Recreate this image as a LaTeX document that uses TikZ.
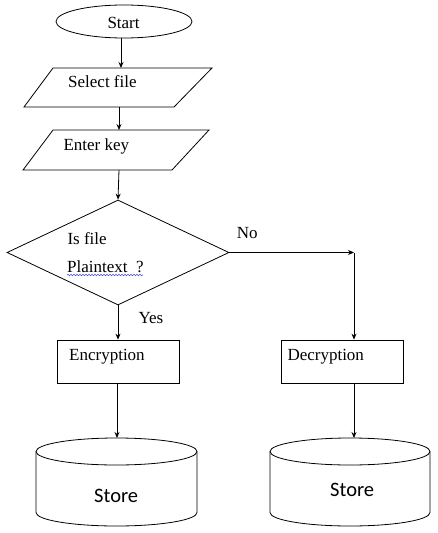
\documentclass[tikz,border=0pt]{standalone}
\usepackage{fontspec}
\setmainfont{Liberation Serif}
\newfontfamily\calibrifont{Carlito}
\usetikzlibrary{shapes.geometric,arrows.meta,decorations.pathmorphing}
\definecolor{wavy}{RGB}{80,80,200}
\begin{document}
\begin{tikzpicture}[x=1pt,y=-1pt,
  every node/.style={font=\fontsize{17}{20}\selectfont},
  lbl/.style={inner sep=0pt, anchor=base west},
  shp/.style={draw=black, line width=0.8pt},
  arr/.style={draw=black, line width=0.8pt, -{Stealth[length=6pt,width=5pt]}},
  storetxt/.style={inner sep=0pt, anchor=base west, font=\calibrifont\fontsize{20.5}{24}\selectfont}]
\useasboundingbox (0,0) rectangle (438,533);
% Start
\node[shp, ellipse, minimum width=136pt, minimum height=33pt, inner sep=0pt] (start) at (124,21.5) {};
\node[lbl] (starttxt) at (107.3,28) {Start};
% Select file
\draw[shp] (53,68) -- (212,68) -- (174,107) -- (24,107) -- cycle;
\coordinate (sfTop) at (121,68);
\coordinate (sfBot) at (119,107);
\node[lbl] (sftxt) at (68,87) {Select file};
% Enter key
\draw[shp] (53,130) -- (209,130) -- (172,170) -- (23,170) -- cycle;
\coordinate (ekTop) at (119,130);
\coordinate (ekBot) at (119,170);
\node[lbl] (ektxt) at (63.3,150.5) {Enter key};
% Decision
\node[shp, diamond, minimum width=222pt, minimum height=105pt, inner sep=0pt] (dec) at (118,252.5) {};
\node[lbl] (q1) at (67.3,244.5) {Is file};
\node[lbl] (q2) at (67,272) {Plaintext\ \ ?};
\coordinate (wavyA) at (67,275);
\coordinate (wavyB) at (143,275);
\draw[decorate, decoration={snake, amplitude=0.7pt, segment length=3pt}, draw=wavy, line width=0.6pt] (wavyA) -- (wavyB);
\node[lbl] (no) at (236.7,238) {No};
\node[lbl] (yes) at (138.3,323) {Yes};
\coordinate (corner) at (354,252.5);
% Boxes
\node[shp, rectangle, minimum width=122pt, minimum height=43pt, inner sep=0pt] (enc) at (118,361.5) {};
\node[lbl] (enctxt) at (69,360.5) {Encryption};
\node[shp, rectangle, minimum width=122pt, minimum height=43pt, inner sep=0pt] (decr) at (342,361.5) {};
\node[lbl] (decrtxt) at (287.3,360.5) {Decryption};
% Stores
\draw[shp] (116.5,451.5) ellipse [x radius=80.5, y radius=13.5];
\draw[shp] (36,451.5) -- (36,512.5) arc[start angle=180, end angle=0, x radius=80.5, y radius=13.5] -- (197,451.5);
\coordinate (st1) at (117,438);
\node[storetxt] (s1txt) at (94,502) {Store};
\draw[shp] (350,451.5) ellipse [x radius=80, y radius=13.5];
\draw[shp] (270,451.5) -- (270,512.5) arc[start angle=180, end angle=0, x radius=80, y radius=13.5] -- (430,451.5);
\coordinate (st2) at (354,438);
\node[storetxt] (s2txt) at (330,496) {Store};
% Connectors
\draw[arr] (sfTop |- start.south) -- (sfTop);
\draw[arr] (sfBot) -- (ekTop);
\draw[arr] (ekBot) -- (dec.north);
\draw[arr] (dec.east) -- (corner);
\draw[arr] (corner) -- (corner |- decr.north);
\draw[arr] (dec.south) -- (enc.north);
\draw[arr] (st1 |- enc.south) -- (st1);
\draw[arr] (st2 |- decr.south) -- (st2);
\end{tikzpicture}
\end{document}
